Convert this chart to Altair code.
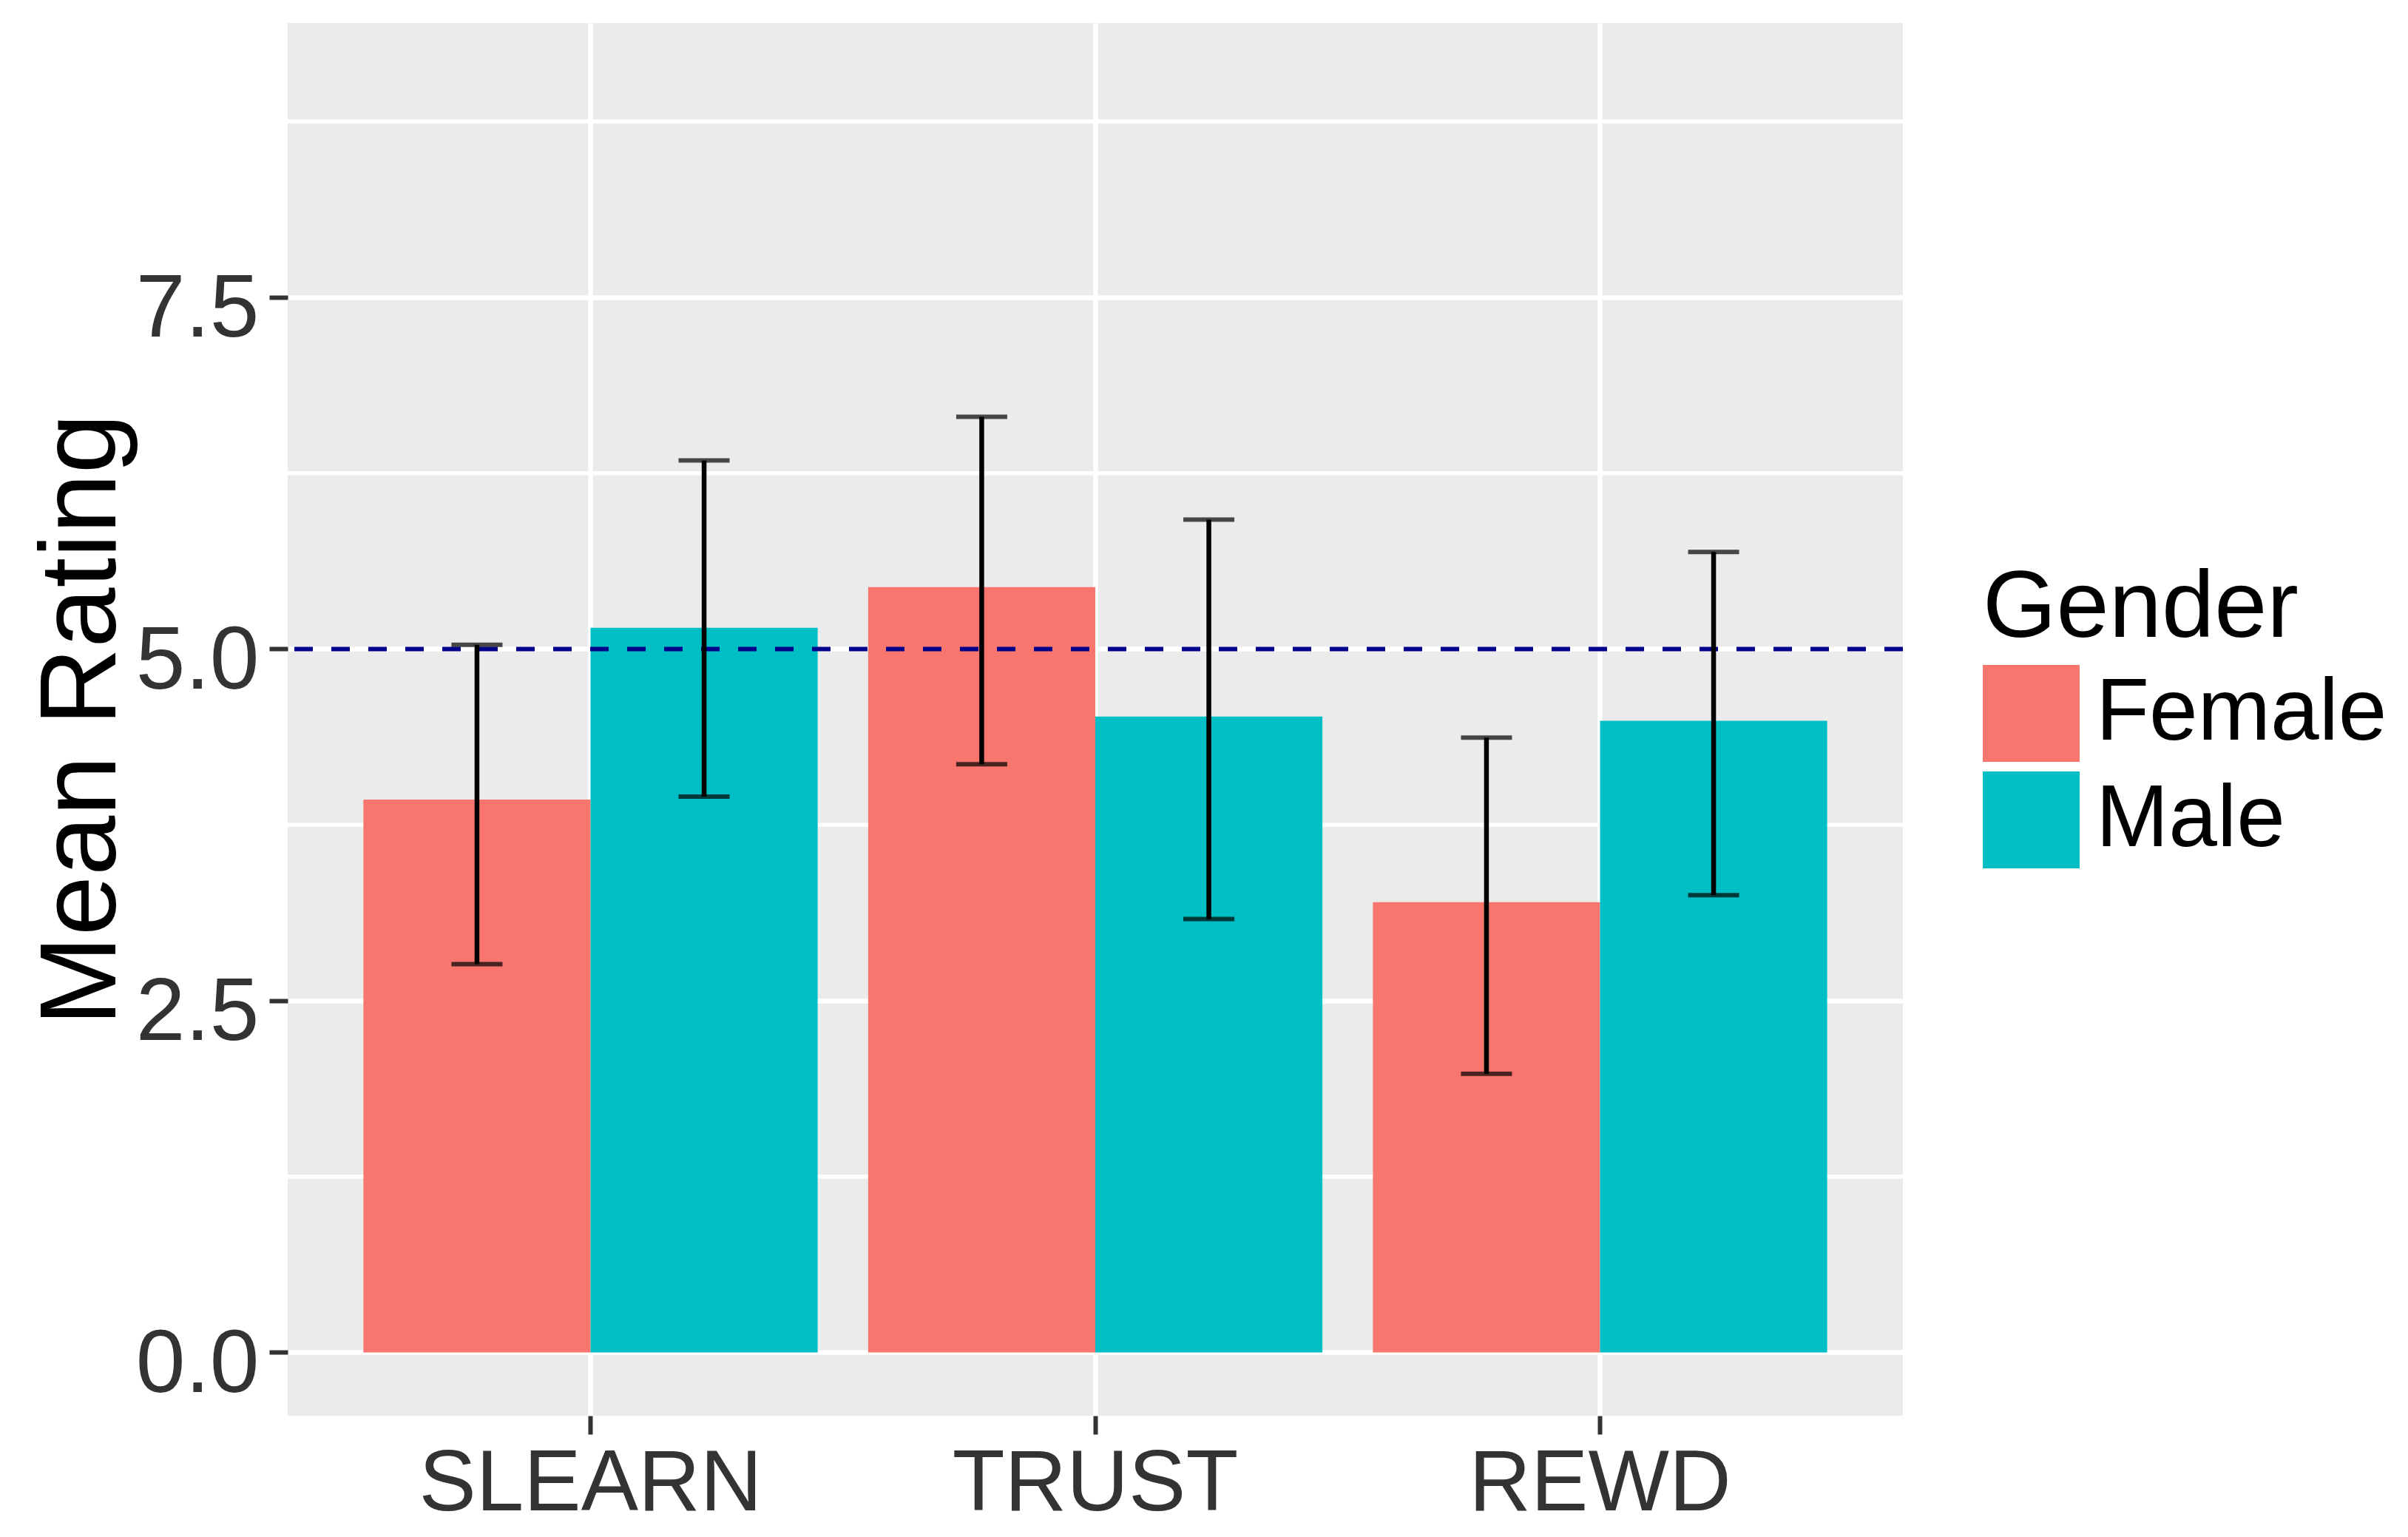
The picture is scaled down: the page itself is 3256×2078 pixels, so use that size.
import altair as alt
import pandas as pd

categories = ["SLEARN", "TRUST", "REWD"]
genders = ["Female", "Male"]
mean_female = [3.93, 5.44, 3.20]
mean_male = [5.15, 4.52, 4.49]
lo_female = [2.76, 4.18, 1.98]
hi_female = [5.03, 6.65, 4.37]
lo_male = [3.95, 3.08, 3.25]
hi_male = [6.34, 5.92, 5.69]
minor_breaks = [1.25, 3.75, 6.25, 8.75]
major_breaks = [0.0, 2.5, 5.0, 7.5]
ref_line = [5.0]
colors = ["#F8766D", "#00BFC4"]

rows = []
for i, c in enumerate(categories):
    rows.append({"Construct": c, "Gender": "Female", "Mean": mean_female[i], "lo": lo_female[i], "hi": hi_female[i]})
    rows.append({"Construct": c, "Gender": "Male", "Mean": mean_male[i], "lo": lo_male[i], "hi": hi_male[i]})
df = pd.DataFrame(rows)

FONT = "Liberation Sans"

xscale = alt.Scale(domain=categories, paddingInner=0.1, paddingOuter=0.15)
yscale = alt.Scale(domain=[-0.45, 9.45], nice=False, zero=False)
offscale = alt.Scale(domain=genders, paddingInner=0, paddingOuter=0)

x_enc = alt.X("Construct:N", scale=xscale, sort=categories,
              axis=alt.Axis(title=None, labelAngle=0, bandPosition=0.5))
xo_enc = alt.XOffset("Gender:N", scale=offscale, sort=genders)

minor = alt.Chart(pd.DataFrame({"v": minor_breaks})).mark_rule(
    color="white", strokeWidth=5.5
).encode(y=alt.Y("v:Q", scale=yscale))

bars = alt.Chart(df).mark_bar().encode(
    x=x_enc,
    xOffset=xo_enc,
    y=alt.Y("Mean:Q", scale=yscale,
            axis=alt.Axis(title="Mean Rating", values=major_breaks, format=".1f")),
    color=alt.Color("Gender:N", scale=alt.Scale(domain=genders, range=colors),
                    legend=alt.Legend(title="Gender")),
)

hline = alt.Chart(pd.DataFrame({"v": ref_line})).mark_rule(
    color="#00008B", strokeDash=[25, 25], strokeWidth=6
).encode(y=alt.Y("v:Q", scale=yscale))

err = alt.Chart(df).mark_rule(color="black", strokeWidth=6.5).encode(
    x=x_enc, xOffset=xo_enc,
    y=alt.Y("lo:Q", scale=yscale), y2="hi:Q",
)
cap_lo = alt.Chart(df).mark_tick(color="black", size=69, thickness=6, orient="horizontal").encode(
    x=x_enc, xOffset=xo_enc, y=alt.Y("lo:Q", scale=yscale))
cap_hi = alt.Chart(df).mark_tick(color="black", size=69, thickness=6, orient="horizontal").encode(
    x=x_enc, xOffset=xo_enc, y=alt.Y("hi:Q", scale=yscale))

chart = alt.layer(minor, bars, hline, err, cap_lo, cap_hi).properties(
    width=2184, height=1883,
    autosize=alt.AutoSizeParams(type="none"),
    padding={"left": 381, "top": 23, "right": 667, "bottom": 152},
    background="white",
).configure_view(
    fill="#EBEBEB", stroke=None
).configure_axis(
    domain=False,
    grid=True, gridColor="white", gridWidth=6.5,
    ticks=True, tickColor="#333333", tickSize=25, tickWidth=6,
    labelFont=FONT, labelFontSize=120, labelColor="#333333", labelLimit=0,
    titleFont=FONT, titleColor="black", titleFontWeight="normal", titleLimit=0,
).configure_axisX(
    labelPadding=10, labelFontSize=116,
).configure_axisY(
    labelPadding=14, labelOffset=17,
    titleFontSize=146, titleAngle=270, titleBaseline="alphabetic", titleAlign="center",
    titleX=-234, titleY=941.5,
).configure_legend(
    orient="none", legendX=2292, legendY=729,
    padding=0,
    titleFont=FONT, titleFontSize=128, titleColor="black", titleFontWeight="normal",
    titlePadding=11, titleLimit=0,
    labelFont=FONT, labelFontSize=118, labelColor="black", labelOffset=22, labelLimit=0,
    symbolType="square", symbolSize=17161, symbolStrokeWidth=0,
    rowPadding=13,
)

chart.save("out.html", embed_options={"renderer": "svg", "actions": False})
